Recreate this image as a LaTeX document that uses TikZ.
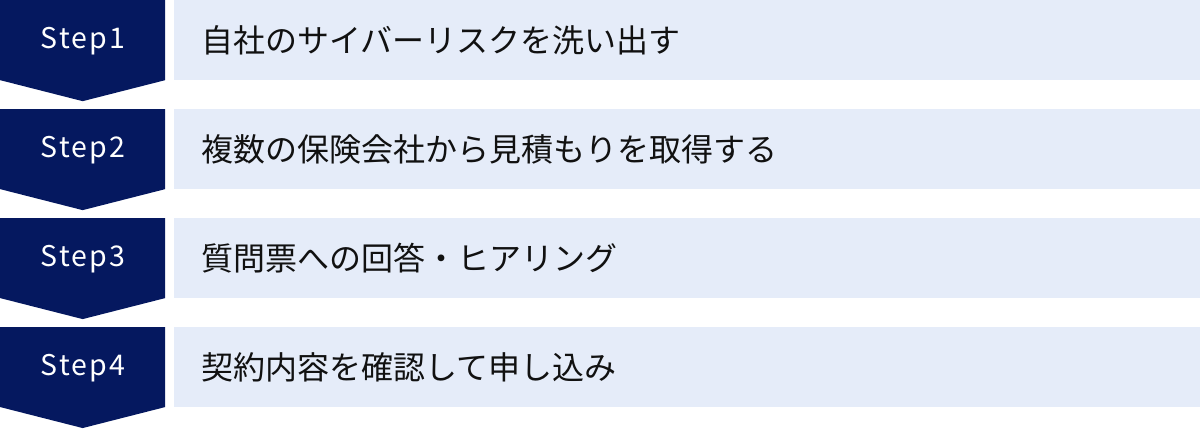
\documentclass[tikz,border=0pt]{standalone}
\usepackage{fontspec}
\usepackage{tikz}
\setmainfont{Noto Sans CJK JP}
\newfontfamily\stepfont[LetterSpace=8]{Noto Sans CJK JP}

\begin{document}
\begin{tikzpicture}[x=1pt,y=1pt,yscale=-1,xscale=1]
	\path (0,0) rectangle (1200,429); %set diagram left start at 0, and has height of 429
	
	%Shape: Step marker 1
	\draw [fill={rgb, 255:red, 5; green, 24; blue, 95 }, draw opacity=0] (0,0) -- (165,0) -- (165,80) -- (82.5,101) -- (0,80) -- cycle ;
	%Shape: Rectangle 1
	\draw [fill={rgb, 255:red, 229; green, 236; blue, 249 }, draw opacity=0] (174,0) -- (1200,0) -- (1200,80) -- (174,80) -- cycle ;
	%Shape: Step marker 2
	\draw [fill={rgb, 255:red, 5; green, 24; blue, 95 }, draw opacity=0] (0,109) -- (165,109) -- (165,189) -- (82.5,210) -- (0,189) -- cycle ;
	%Shape: Rectangle 2
	\draw [fill={rgb, 255:red, 229; green, 236; blue, 249 }, draw opacity=0] (174,109) -- (1200,109) -- (1200,189) -- (174,189) -- cycle ;
	%Shape: Step marker 3
	\draw [fill={rgb, 255:red, 5; green, 24; blue, 95 }, draw opacity=0] (0,218) -- (165,218) -- (165,298) -- (82.5,319) -- (0,298) -- cycle ;
	%Shape: Rectangle 3
	\draw [fill={rgb, 255:red, 229; green, 236; blue, 249 }, draw opacity=0] (174,218) -- (1200,218) -- (1200,298) -- (174,298) -- cycle ;
	%Shape: Step marker 4
	\draw [fill={rgb, 255:red, 5; green, 24; blue, 95 }, draw opacity=0] (0,327) -- (165,327) -- (165,407) -- (82.5,428) -- (0,407) -- cycle ;
	%Shape: Rectangle 4
	\draw [fill={rgb, 255:red, 229; green, 236; blue, 249 }, draw opacity=0] (174,327) -- (1200,327) -- (1200,407) -- (174,407) -- cycle ;
	
	% Text Node
	\draw (83,41) node [inner sep=0pt, color=white, font=\stepfont\fontsize{28.5}{33}\selectfont] (step1) {Step1};
	% Text Node
	\draw (83,150) node [inner sep=0pt, color=white, font=\stepfont\fontsize{28.5}{33}\selectfont] (step2) {Step2};
	% Text Node
	\draw (83,259) node [inner sep=0pt, color=white, font=\stepfont\fontsize{28.5}{33}\selectfont] (step3) {Step3};
	% Text Node
	\draw (83,368) node [inner sep=0pt, color=white, font=\stepfont\fontsize{28.5}{33}\selectfont] (step4) {Step4};
	% Text Node
	\draw (201,40) node [anchor=west][inner sep=0pt, color={rgb, 255:red, 17; green, 17; blue, 17 }, font=\fontsize{32}{37}\selectfont] (task1) {自社のサイバーリスクを洗い出す};
	% Text Node
	\draw (201,149) node [anchor=west][inner sep=0pt, color={rgb, 255:red, 17; green, 17; blue, 17 }, font=\fontsize{32}{37}\selectfont] (task2) {複数の保険会社から見積もりを取得する};
	% Text Node
	\draw (201,258) node [anchor=west][inner sep=0pt, color={rgb, 255:red, 17; green, 17; blue, 17 }, font=\fontsize{32}{37}\selectfont] (task3) {質問票への回答・ヒアリング};
	% Text Node
	\draw (201,367) node [anchor=west][inner sep=0pt, color={rgb, 255:red, 17; green, 17; blue, 17 }, font=\fontsize{32}{37}\selectfont] (task4) {契約内容を確認して申し込み};
	
\end{tikzpicture}
\end{document}
